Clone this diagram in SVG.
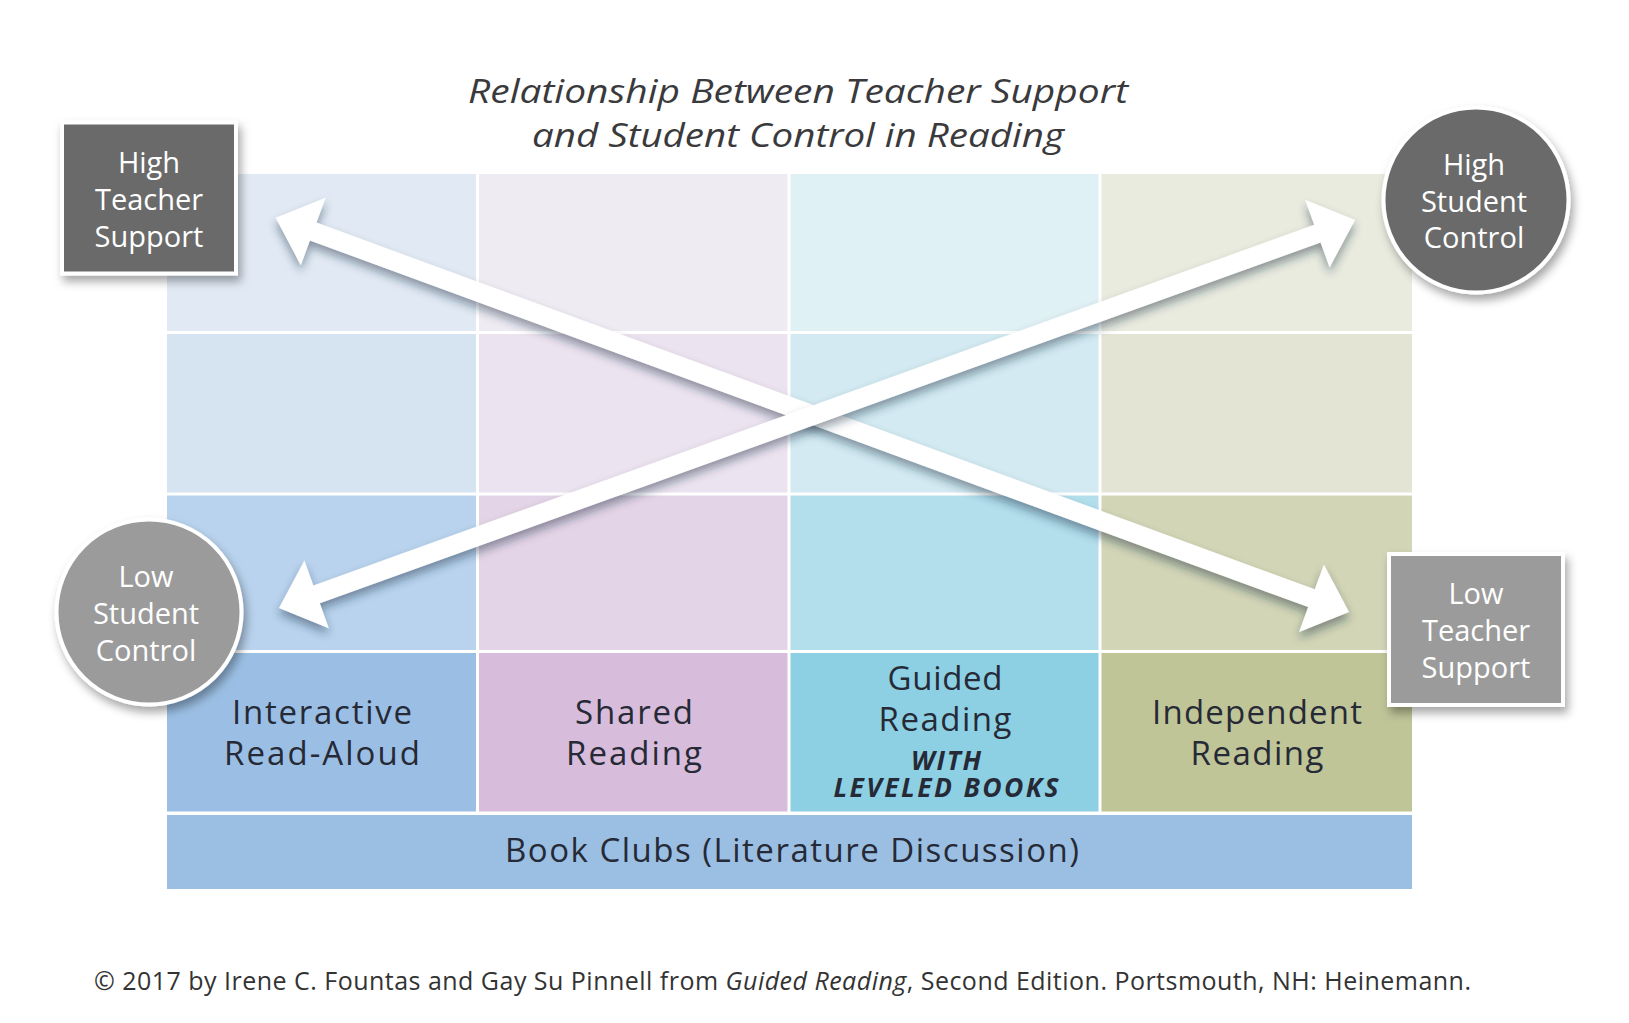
<svg xmlns="http://www.w3.org/2000/svg" width="1629" height="1023" viewBox="0 0 1629 1023">
<defs>
<style>
.t{font-family:"Open Sans","Noto Sans","Liberation Sans",sans-serif;}
.title{font-size:32px;font-style:italic;fill:#3a3a3c;text-anchor:middle;}
.lbl{font-size:33px;fill:#262a36;text-anchor:middle;}
.sub{font-size:26.5px;font-weight:bold;font-style:italic;fill:#262a36;text-anchor:middle;}
.wl{font-size:29px;fill:#ffffff;text-anchor:middle;}
.copy{font-size:25px;fill:#333333;}
.dark{fill:#6b6a6b;stroke:#ffffff;stroke-width:4;}
.light{fill:#9b9b9b;stroke:#ffffff;stroke-width:4;}
.arrow{fill:#ffffff;}
</style>
<filter id="nsh" x="-30%" y="-30%" width="170%" height="170%">
<feDropShadow dx="3" dy="6" stdDeviation="5" flood-color="#000000" flood-opacity="0.35"/>
</filter>
<filter id="ash" x="-10%" y="-20%" width="120%" height="150%">
<feDropShadow dx="0" dy="6" stdDeviation="5" flood-color="#1a2a40" flood-opacity="0.45"/>
</filter>
</defs>
<rect width="1629" height="1023" fill="#ffffff"/>

<g id="title" class="t title">
<text x="798" y="103" textLength="660" lengthAdjust="spacingAndGlyphs">Relationship Between Teacher Support</text>
<text x="798" y="147" textLength="532" lengthAdjust="spacingAndGlyphs">and Student Control in Reading</text>
</g>

<g id="grid">
<rect x="167" y="174" width="309" height="157" fill="#e1e9f4"/>
<rect x="167" y="334" width="309" height="158.5" fill="#d6e4f2"/>
<rect x="167" y="495.5" width="309" height="154.5" fill="#b9d3ee"/>
<rect x="479" y="174" width="308.5" height="157" fill="#efebf3"/>
<rect x="479" y="334" width="308.5" height="158.5" fill="#ece3f0"/>
<rect x="479" y="495.5" width="308.5" height="154.5" fill="#e4d4e7"/>
<rect x="790.5" y="174" width="308" height="157" fill="#e0f1f6"/>
<rect x="790.5" y="334" width="308" height="158.5" fill="#d3eaf2"/>
<rect x="790.5" y="495.5" width="308" height="154.5" fill="#b3deec"/>
<rect x="1101.5" y="174" width="310.5" height="157" fill="#e9ebdf"/>
<rect x="1101.5" y="334" width="310.5" height="158.5" fill="#e3e4d3"/>
<rect x="1101.5" y="495.5" width="310.5" height="154.5" fill="#d2d5b6"/>
</g>

<g id="interactive-read-aloud">
<rect x="167" y="653" width="309" height="158.5" fill="#9bbfe4"/>
<text class="t lbl" x="322" y="724" textLength="180" lengthAdjust="spacing">Interactive</text>
<text class="t lbl" x="322" y="765" textLength="196" lengthAdjust="spacing">Read-Aloud</text>
</g>
<g id="shared-reading">
<rect x="479" y="653" width="308.5" height="158.5" fill="#d8bcdb"/>
<text class="t lbl" x="634" y="724" textLength="118" lengthAdjust="spacing">Shared</text>
<text class="t lbl" x="634" y="765" textLength="136" lengthAdjust="spacing">Reading</text>
</g>
<g id="guided-reading">
<rect x="790.5" y="653" width="308" height="158.5" fill="#8dd0e4"/>
<text class="t lbl" x="945" y="690" textLength="115" lengthAdjust="spacing">Guided</text>
<text class="t lbl" x="945" y="731" textLength="133" lengthAdjust="spacing">Reading</text>
<text class="t sub" x="946" y="770" textLength="70" lengthAdjust="spacing">WITH</text>
<text class="t sub" x="946" y="797" textLength="225" lengthAdjust="spacing">LEVELED BOOKS</text>
</g>
<g id="independent-reading">
<rect x="1101.5" y="653" width="310.5" height="158.5" fill="#c0c598"/>
<text class="t lbl" x="1257" y="724" textLength="210" lengthAdjust="spacing">Independent</text>
<text class="t lbl" x="1257" y="765" textLength="133" lengthAdjust="spacing">Reading</text>
</g>
<g id="book-clubs">
<rect x="167" y="815" width="1245" height="74" fill="#9bbfe3"/>
<text class="t lbl" x="792" y="862" textLength="574" lengthAdjust="spacing">Book Clubs (Literature Discussion)</text>
</g>

<g id="connectors">
<polygon id="arrow-teacher-support" class="arrow" filter="url(#ash)" points="275.7,217.7 325.6,197.7 316.5,222.6 1314.8,589.3 1323.9,564.4 1349,612 1299.1,632 1308.2,607.1 309.9,240.4 300.8,265.3"/>
<polygon id="arrow-student-control" class="arrow" filter="url(#ash)" points="279,608 304.4,560.5 313.4,585.5 1314.2,224.7 1305.2,199.7 1355,220 1329.6,267.5 1320.6,242.5 319.8,603.3 328.8,628.3"/>
</g>

<g id="high-teacher-support">
<rect class="dark" x="62" y="122.5" width="174" height="151" filter="url(#nsh)"/>
<text class="t wl" x="149" y="173">High</text>
<text class="t wl" x="149" y="210">Teacher</text>
<text class="t wl" x="149" y="247">Support</text>
</g>
<g id="high-student-control">
<circle class="dark" cx="1476" cy="200" r="92.5" filter="url(#nsh)"/>
<text class="t wl" x="1474" y="175">High</text>
<text class="t wl" x="1474" y="212">Student</text>
<text class="t wl" x="1474" y="248">Control</text>
</g>
<g id="low-student-control">
<circle class="light" cx="149" cy="612" r="92.5" filter="url(#nsh)"/>
<text class="t wl" x="146" y="587">Low</text>
<text class="t wl" x="146" y="624">Student</text>
<text class="t wl" x="146" y="661">Control</text>
</g>
<g id="low-teacher-support">
<rect class="light" x="1389" y="554" width="174" height="151" filter="url(#nsh)"/>
<text class="t wl" x="1476" y="604">Low</text>
<text class="t wl" x="1476" y="641">Teacher</text>
<text class="t wl" x="1476" y="678">Support</text>
</g>

<g id="credit">
<text class="t copy" x="94" y="990" textLength="1377" lengthAdjust="spacing">© 2017 by Irene C. Fountas and Gay Su Pinnell from <tspan font-style="italic">Guided Reading</tspan>, Second Edition. Portsmouth, NH: Heinemann.</text>
</g>
</svg>
